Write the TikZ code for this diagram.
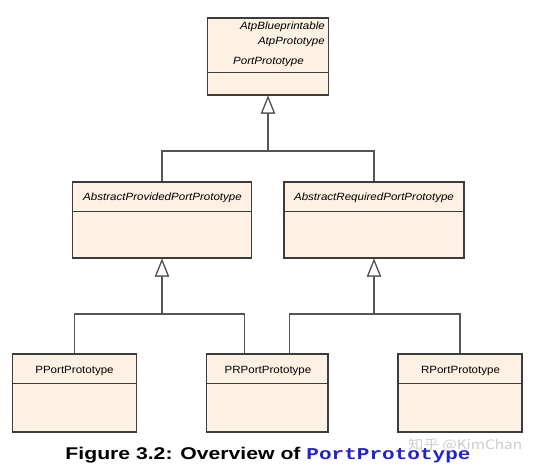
\documentclass[tikz,border=0pt]{standalone}
\usepackage{fontspec}
\setmainfont{Liberation Sans}
\newfontfamily\capmono{Liberation Mono}
\newfontfamily\cjk{Noto Sans CJK SC}
\usepackage{graphicx}
\usetikzlibrary{arrows.meta}
\definecolor{clsfill}{RGB}{252,241,226}
\definecolor{clsdraw}{RGB}{60,60,60}
\definecolor{conn}{RGB}{85,85,85}
\definecolor{capblue}{RGB}{34,34,204}
\newcommand\umltxt[1]{\scalebox{1.1}[1]{#1}}
\begin{document}
\begin{tikzpicture}[x=1pt,y=-1pt,
  cls/.style={draw=clsdraw, fill=clsfill, line width=1.2pt, rectangle, inner sep=0pt},
  divline/.style={draw=clsdraw, line width=1.2pt},
  lbl/.style={inner sep=0pt, font=\fontsize{10.5}{12}\selectfont},
  gen/.style={draw=conn, line width=1.2pt, -{Triangle[width=14pt,length=18pt,fill=white]}}]
\fill[white] (0,0) rectangle (535,468);
\useasboundingbox (0,0) rectangle (535,468);
% classes
\node[cls, minimum width=121pt, minimum height=77pt] (pp) at (268,56.5) {};
\draw[divline] ([yshift=-55pt]pp.north west) -- ([yshift=-55pt]pp.north east);
\node[lbl, anchor=east] (pp1) at (325,27) {\umltxt{\itshape AtpBlueprintable}};
\node[lbl, anchor=east] (pp2) at (325,42) {\umltxt{\itshape AtpPrototype}};
\node[lbl, anchor=west] (pp3) at (233,62) {\umltxt{\itshape PortPrototype}};

\node[cls, minimum width=179pt, minimum height=76pt] (apb) at (162,220) {};
\draw[divline] ([yshift=-30pt]apb.north west) -- ([yshift=-30pt]apb.north east);
\node[lbl] (apbl) at (162.5,198) {\umltxt{\itshape AbstractProvidedPortPrototype}};

\node[cls, minimum width=180pt, minimum height=76pt] (arb) at (374,220) {};
\draw[divline] ([yshift=-30pt]arb.north west) -- ([yshift=-30pt]arb.north east);
\node[lbl] (arbl) at (374,198) {\umltxt{\itshape AbstractRequiredPortPrototype}};

\node[cls, minimum width=124pt, minimum height=78pt] (ppp) at (74.5,393) {};
\draw[divline] ([yshift=-30pt]ppp.north west) -- ([yshift=-30pt]ppp.north east);
\node[lbl] (pppl) at (74.5,371) {\umltxt{PPortPrototype}};

\node[cls, minimum width=121.5pt, minimum height=78pt] (prp) at (267.25,393) {};
\draw[divline] ([yshift=-30pt]prp.north west) -- ([yshift=-30pt]prp.north east);
\node[lbl] (prpl) at (268,371) {\umltxt{PRPortPrototype}};

\node[cls, minimum width=124pt, minimum height=78pt] (rpp) at (460,393) {};
\draw[divline] ([yshift=-30pt]rpp.north west) -- ([yshift=-30pt]rpp.north east);
\node[lbl] (rppl) at (460.5,371) {\umltxt{RPortPrototype}};

% generalizations
\coordinate (j1) at (268,151);
\coordinate (j2) at (162,314);
\coordinate (j3) at (374,314);
\draw[gen] (apb.north) |- (j1) -| (pp.south);
\draw[gen] (arb.north) |- (j1) -| (pp.south);
\draw[gen] (ppp.north) |- (j2) -| (apb.south);
\draw[gen] ([xshift=-22.5pt]prp.north) |- (j2) -| (apb.south);
\draw[gen] ([xshift=22.5pt]prp.north) |- (j3) -| (arb.south);
\draw[gen] (rpp.north) |- (j3) -| (arb.south);

% caption
\node[anchor=base, inner sep=0pt] (cap) at (268,459.5)
  {\resizebox{235pt}{12.3pt}{\bfseries Figure 3.2: Overview of}\hspace{6pt}\textcolor{capblue}{\resizebox{164pt}{11pt}{\capmono\bfseries PortPrototype}}};
\node[anchor=base west, inner sep=0pt, text=black!22, opacity=0.9] (wm) at (408,449.5)
  {\resizebox{114pt}{11pt}{\cjk 知乎 @KimChan}};
\end{tikzpicture}
\end{document}
